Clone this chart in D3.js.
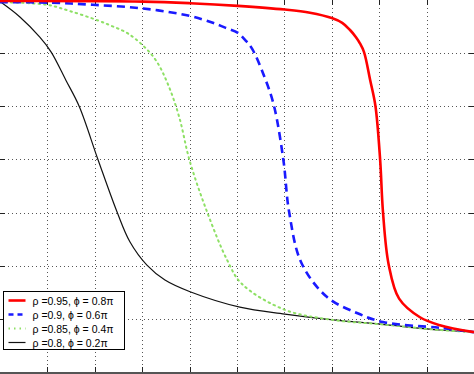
<!DOCTYPE html>
<html>
<head>
<meta charset="utf-8">
<script src="https://cdn.jsdelivr.net/npm/d3@7"></script>
<style>
  body { margin: 0; background: #fff; }
  svg { display: block; }
</style>
</head>
<body>
<div id="chart"></div>
<script>
// values (x: 0..10, y: 0..7)
let xTicks = [1, 2, 3, 4, 5, 6, 7, 8, 9];
let yTicks = [1, 2, 3, 4, 5, 6];

let labels = ["ρ =0.95, ϕ = 0.8π", "ρ =0.9, ϕ = 0.6π", "ρ =0.85, ϕ = 0.4π", "ρ =0.8, ϕ = 0.2π"];

let redX = [0, 3.02, 4.01, 5.02, 6.01, 6.54, 7.0, 7.22, 7.38, 7.51, 7.59, 7.68, 7.81, 7.92, 8.02, 8.08, 8.2, 8.42, 8.86, 9.28, 10];
let redY = [6.98, 6.97, 6.94, 6.89, 6.82, 6.76, 6.66, 6.57, 6.44, 6.3, 6.19, 6.02, 5.49, 5.01, 3.99, 3.01, 2.02, 1.38, 1.03, 0.88, 0.75];

let blueX = [0, 1.05, 1.96, 3.02, 4.01, 4.49, 4.75, 5.02, 5.17, 5.32, 5.58, 5.78, 5.98, 6.1, 6.36, 6.9, 7.53, 8.08, 9.28, 10];
let blueY = [6.96, 6.95, 6.91, 6.84, 6.7, 6.57, 6.48, 6.38, 6.25, 6.08, 5.55, 5.01, 3.98, 3.01, 2.05, 1.41, 1.11, 0.94, 0.83, 0.75];

let greenX = [0, 0.99, 1.48, 2.05, 2.36, 2.68, 3.02, 3.3, 3.55, 3.78, 4.0, 4.37, 4.79, 5.1, 6.01, 7.03, 8.02, 9.28, 10];
let greenY = [6.96, 6.91, 6.79, 6.62, 6.51, 6.38, 6.14, 5.85, 5.4, 4.8, 3.98, 3.01, 2.11, 1.66, 1.17, 0.98, 0.9, 0.79, 0.75];

let blackX = [0, 0.42, 0.84, 1.08, 1.39, 1.67, 2.07, 2.47, 2.74, 3.1, 3.48, 4.01, 5.06, 6.01, 7.03, 8.02, 9.28, 10];
let blackY = [6.97, 6.68, 6.3, 6.02, 5.49, 5.0, 3.99, 3.01, 2.45, 2.01, 1.73, 1.51, 1.22, 1.09, 0.98, 0.9, 0.79, 0.75];

function go() {
    let width = 474,
        height = 374;

    let svg = d3.select("#chart")
        .append("svg")
        .attr("width", width)
        .attr("height", height);

    let x = d3.scaleLinear().domain([0, 10]).range([0, 474]);
    let y = d3.scaleLinear().domain([0, 7]).range([372, 0]);

    // dotted grid
    svg.append("g").selectAll("line")
        .data(xTicks)
        .enter().append("line")
        .attr("x1", d => Math.round(x(d)) + 0.5)
        .attr("x2", d => Math.round(x(d)) + 0.5)
        .attr("y1", 0)
        .attr("y2", 372)
        .attr("stroke", "#555")
        .attr("stroke-dasharray", "1,3");

    svg.append("g").selectAll("line")
        .data(yTicks)
        .enter().append("line")
        .attr("y1", d => Math.round(y(d)) + 0.5)
        .attr("y2", d => Math.round(y(d)) + 0.5)
        .attr("x1", 0)
        .attr("x2", 474)
        .attr("stroke", "#555")
        .attr("stroke-dasharray", "1,3");

    // inward ticks on all four sides
    let tickLen = 5;
    let ticks = svg.append("g").attr("stroke", "#222");
    xTicks.forEach(function (d) {
        let px = Math.round(x(d)) + 0.5;
        ticks.append("line").attr("x1", px).attr("x2", px).attr("y1", 0).attr("y2", tickLen);
        ticks.append("line").attr("x1", px).attr("x2", px).attr("y1", 372).attr("y2", 372 - tickLen);
    });
    yTicks.forEach(function (d) {
        let py = Math.round(y(d)) + 0.5;
        ticks.append("line").attr("y1", py).attr("y2", py).attr("x1", 0).attr("x2", tickLen);
        ticks.append("line").attr("y1", py).attr("y2", py).attr("x1", 474).attr("x2", 474 - tickLen);
    });

    // bottom axis line
    svg.append("line")
        .attr("x1", 0).attr("x2", 474)
        .attr("y1", 373).attr("y2", 373)
        .attr("stroke", "#555")
        .attr("stroke-width", 2);

    let series = [
        { name: labels[0], xs: redX, ys: redY, color: "#ff0000", w: 2.6, dash: null },
        { name: labels[1], xs: blueX, ys: blueY, color: "#1a1aff", w: 2.6, dash: "8,5" },
        { name: labels[2], xs: greenX, ys: greenY, color: "#8ee065", w: 2, dash: "1.5,4" },
        { name: labels[3], xs: blackX, ys: blackY, color: "#111", w: 1.2, dash: null }
    ];

    let line = d3.line()
        .x(d => x(d[0]))
        .y(d => y(d[1]))
        .curve(d3.curveCatmullRom.alpha(0.5));

    // draw back to front so red ends on top
    series.slice().reverse().forEach(function (s) {
        let pts = s.xs.map((v, i) => [v, s.ys[i]]);
        svg.append("path")
            .datum(pts)
            .attr("d", line)
            .attr("fill", "none")
            .attr("stroke", s.color)
            .attr("stroke-width", s.w)
            .attr("stroke-dasharray", s.dash)
            .attr("stroke-linecap", s.dash && s.w < 2.5 ? "round" : "butt");
    });

    // legend
    let legend = svg.append("g").attr("transform", "translate(3.5,291.5)");
    legend.append("rect")
        .attr("width", 121)
        .attr("height", 58)
        .attr("fill", "#fff")
        .attr("stroke", "#000")
        .attr("stroke-width", 1);

    let rows = legend.selectAll(".row")
        .data(series)
        .enter().append("g")
        .attr("class", "row")
        .attr("transform", (d, i) => "translate(0," + (9 + i * 14) + ")");

    rows.append("line")
        .attr("x1", 5).attr("x2", 22)
        .attr("y1", 0).attr("y2", 0)
        .attr("stroke", d => d.color)
        .attr("stroke-width", d => d.w)
        .attr("stroke-dasharray", d => d.dash ? (d.w < 2.5 ? "1.5,4" : "5,4") : null);

    rows.append("text")
        .attr("x", 29)
        .attr("y", 4)
        .attr("font-family", "'Liberation Sans', Arial, sans-serif")
        .attr("font-size", 10.5)
        .attr("fill", "#000")
        .text(d => d.name);
}
go();
</script>
</body>
</html>
